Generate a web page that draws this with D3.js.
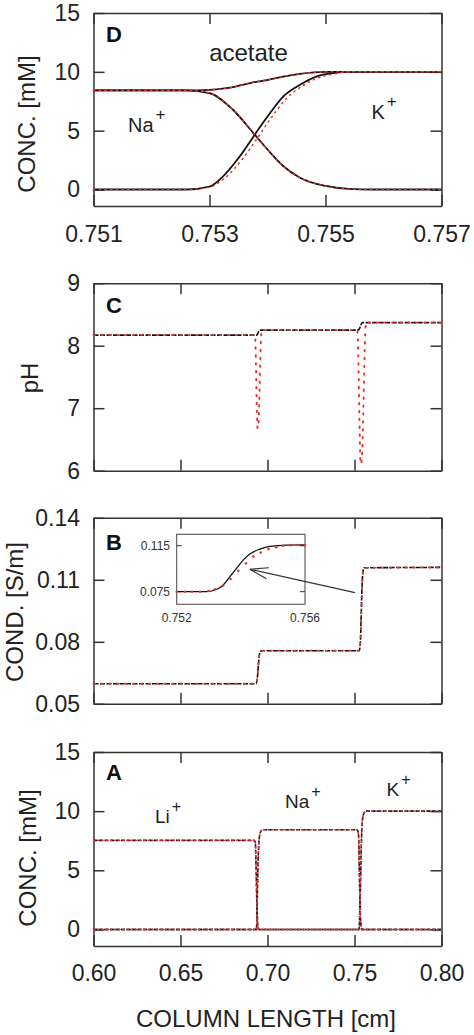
<!DOCTYPE html>
<html lang="en">
<head>
<meta charset="UTF-8">
<title>Column profiles</title>
<script src="https://d3js.org/d3.v7.min.js"></script>
<style>
  body, html { margin: 0; background: #fff; }
  svg { font-family: 'Liberation Sans', Arial, sans-serif; display: block; }
  .frame path, .frame line { stroke: #333; stroke-width: 1.5; }
  .frame text { fill: #222; }
</style>
</head>
<body>
<svg id="chart" width="474" height="1035"></svg>
<script>
// ---------- data ----------
// panel D: zoom around the Na+/K+ boundary
const dNa = [[0.751,8.43],[0.7526,8.43],[0.753,8.2],[0.7534,6.8],[0.75378,4.66],[0.754,3.4],[0.75427,2.0],[0.75456,1.0],[0.755,0.3],[0.7554,0.05],[0.7558,0],[0.757,0]];
const dK  = [[0.751,0],[0.7526,0],[0.753,0.25],[0.75323,1.1],[0.75352,2.8],[0.75378,4.66],[0.754,6.2],[0.75427,7.9],[0.75456,8.9],[0.75484,9.6],[0.75513,9.9],[0.7554,10],[0.757,10]];
const dKRed = [[0.751,0],[0.7526,0],[0.753,0.2],[0.75327,1.0],[0.75357,2.6],[0.75383,4.4],[0.75405,6.0],[0.75432,7.7],[0.7546,8.8],[0.75488,9.5],[0.75517,9.85],[0.7554,10],[0.757,10]];
const dAc = [[0.751,8.43],[0.7528,8.43],[0.753,8.47],[0.75341,8.7],[0.7537,9.05],[0.75399,9.3],[0.75427,9.6],[0.75456,9.83],[0.755,10],[0.757,10]];

// panel C: pH
const cPh    = [[0.6,8.17],[0.6938,8.17],[0.6945,8.2],[0.6952,8.24],[0.696,8.25],[0.7522,8.25],[0.753,8.28],[0.7538,8.34],[0.7546,8.37],[0.8,8.37]];
const cPhRed = [[0.6,8.17],[0.6928,8.17],[0.6943,6.68],[0.6947,6.72],[0.6966,8.25],[0.7516,8.25],[0.7536,6.11],[0.7541,6.15],[0.7566,8.37],[0.8,8.37]];

// panel B: conductivity
const bCond = [[0.6,0.0597],[0.6934,0.0597],[0.6941,0.062],[0.6947,0.068],[0.6953,0.0735],[0.696,0.0753],[0.6968,0.0757],[0.7527,0.0757],[0.7534,0.08],[0.7538,0.091],[0.7543,0.106],[0.7549,0.1142],[0.7555,0.1158],[0.8,0.116]];
const insetLine = [[0.752,0.075],[0.75294,0.075],[0.75325,0.0771],[0.75345,0.0809],[0.75366,0.0881],[0.75387,0.0955],[0.75408,0.1027],[0.75429,0.108],[0.7546,0.1121],[0.75491,0.1144],[0.75543,0.1156],[0.756,0.1157]];
const insetDots = [[0.7520,0.075],[0.75226,0.075],[0.75247,0.075],[0.75273,0.075],[0.75299,0.0756],[0.75319,0.0771],[0.75345,0.0803],[0.75368,0.0861],[0.75392,0.0931],[0.75416,0.0998],[0.75439,0.1056],[0.75462,0.1091],[0.75486,0.1121],[0.7551,0.1138],[0.75532,0.115],[0.75555,0.1156],[0.75579,0.1156],[0.756,0.1156]];

// panel A: concentrations
const aLi = [[0.6,7.53],[0.6924,7.53],[0.693,7.35],[0.6934,5.5],[0.694,1.5],[0.6947,0.1],[0.6952,0],[0.8,0]];
const aNa = [[0.6,0],[0.6934,0],[0.6938,0.4],[0.6943,4],[0.6951,7.5],[0.696,8.25],[0.6971,8.43],[0.7516,8.43],[0.7523,8.0],[0.7529,4],[0.7534,1],[0.7543,0],[0.8,0]];
const aK  = [[0.6,0],[0.7526,0],[0.7533,3],[0.7539,7],[0.7546,9.3],[0.7557,9.9],[0.7566,10],[0.8,10]];

const xTicksMain = [0.6, 0.65, 0.7, 0.75, 0.8];
const xTicksD = [0.751, 0.753, 0.755, 0.757];
const concTicks = [0, 5, 10, 15];
const phTicks = [6, 7, 8, 9];
const condTicks = [0.05, 0.08, 0.11, 0.14];

// ---------- drawing ----------
const svg = d3.select("#chart");
const left = 93.5, right = 441.5;

function panel(o) {
  const x = d3.scaleLinear().domain(o.xDomain).range([left, right]);
  const y = d3.scaleLinear().domain(o.yDomain).range([o.bottom, o.top]);
  const g = svg.append("g").attr("class", "frame");
  const ts = -11;

  g.append("g").attr("transform", `translate(0,${o.bottom})`)
    .call(d3.axisBottom(x).tickValues(o.xTicks).tickSize(ts).tickSizeOuter(0)
      .tickPadding(o.xPad || 20).tickFormat(o.xFormat ? d3.format(o.xFormat) : ""))
    .call(a => a.selectAll("text").style("font-size", "23px"));
  g.append("g").attr("transform", `translate(0,${o.top})`)
    .call(d3.axisTop(x).tickValues(o.xTicks).tickSize(ts).tickSizeOuter(0).tickFormat(""));
  g.append("g").attr("transform", `translate(${left},0)`)
    .call(d3.axisLeft(y).tickValues(o.yTicks).tickSize(ts).tickSizeOuter(0)
      .tickPadding(13.5).tickFormat(d3.format(o.yFormat)))
    .call(a => a.selectAll("text").style("font-size", "23px"));
  g.append("g").attr("transform", `translate(${right},0)`)
    .call(d3.axisRight(y).tickValues(o.yTicks).tickSize(ts).tickSizeOuter(0).tickFormat(""));
  g.selectAll(".tick text").attr("fill", "#222");

  // y title
  svg.append("text")
    .attr("transform", `translate(${o.titleX},${o.titleY}) rotate(-90)`)
    .attr("text-anchor", "middle")
    .style("font-size", "24px").attr("fill", "#222")
    .text(o.yTitle);

  // panel letter
  svg.append("text").attr("x", 106).attr("y", o.letterY)
    .style("font-size", "22px").style("font-weight", "bold").attr("fill", "#111")
    .text(o.letter);

  return { x, y };
}

function curve(p, data, color, dash, w) {
  const line = d3.line().curve(d3.curveMonotoneX).x(d => p.x(d[0])).y(d => p.y(d[1]));
  svg.append("path").datum(data)
    .attr("d", line)
    .attr("fill", "none")
    .attr("stroke", color)
    .attr("stroke-width", w || 1.6)
    .attr("stroke-linecap", dash && color !== "#111" ? "round" : "butt")
    .attr("stroke-dasharray", dash || null);
}

function ionLabel(x, y, name, size) {
  const t = svg.append("text").attr("x", x).attr("y", y)
    .style("font-size", size + "px").attr("fill", "#222");
  t.append("tspan").text(name);
  t.append("tspan").attr("dy", -size * 0.6).attr("dx", 2).style("font-size", (size * 0.85) + "px").text("+");
}

// ----- D -----
const pD = panel({ xDomain: [0.751, 0.757], yDomain: [-1.4, 15], top: 13, bottom: 206,
  xTicks: xTicksD, yTicks: concTicks, xFormat: ".3f", yFormat: "d", xPad: 20,
  yTitle: "CONC. [mM]", titleX: 35, titleY: 124, letter: "D", letterY: 41.5 });
[dNa, dK, dAc].forEach(s => curve(pD, s, "#111", null, 1.8));
curve(pD, dNa, "#e8312f", "1.2,4.5", 1.5);
curve(pD, dKRed, "#e8312f", "1.2,4.5", 1.5);
curve(pD, dAc, "#e8312f", "1.2,4.5", 1.5);
svg.append("text").attr("x", 248.5).attr("y", 61).attr("text-anchor", "middle")
  .style("font-size", "24px").attr("fill", "#222").text("acetate");
ionLabel(128, 131.5, "Na", 20);
ionLabel(371.5, 118.5, "K", 20);

// ----- C -----
const pC = panel({ xDomain: [0.6, 0.8], yDomain: [6, 9], top: 283.2, bottom: 470.7,
  xTicks: xTicksMain, yTicks: phTicks, yFormat: "d",
  yTitle: "pH", titleX: 38, titleY: 378, letter: "C", letterY: 313 });
curve(pC, cPh, "#111", "5,1.5", 1.6);
curve(pC, cPhRed, "#e8312f", "1.4,6.5", 1.9);

// ----- B -----
const pB = panel({ xDomain: [0.6, 0.8], yDomain: [0.05, 0.14], top: 517.8, bottom: 703.8,
  xTicks: xTicksMain, yTicks: condTicks, yFormat: ".2f",
  yTitle: "COND. [S/m]", titleX: 23, titleY: 612, letter: "B", letterY: 550 });
curve(pB, bCond, "#111", "5,1.5", 1.6);
curve(pB, bCond, "#e8312f", "1.4,6.5", 1.8);

// inset
const ix = d3.scaleLinear().domain([0.752, 0.756]).range([176.7, 305]);
const iy = d3.scaleLinear().domain([0.064, 0.125]).range([604.3, 534.3]);
const ig = svg.append("g");
ig.append("rect").attr("x", 176.7).attr("y", 534.3).attr("width", 128.3).attr("height", 70)
  .attr("fill", "#fff").attr("stroke", "#555").attr("stroke-width", 1.1);
[0.075, 0.115].forEach(v => {
  ig.append("line").attr("x1", 176.7).attr("x2", 181.7).attr("y1", iy(v)).attr("y2", iy(v)).attr("stroke", "#333");
  ig.append("line").attr("x1", 300).attr("x2", 305).attr("y1", iy(v)).attr("y2", iy(v)).attr("stroke", "#333");
  ig.append("text").attr("x", 170).attr("y", iy(v)).attr("dy", "0.35em").attr("text-anchor", "end")
    .style("font-size", "12px").attr("fill", "#333").text(d3.format(".3f")(v));
});
[0.752, 0.756].forEach(v => {
  ig.append("text").attr("x", ix(v)).attr("y", 621.5).attr("text-anchor", "middle")
    .style("font-size", "12px").attr("fill", "#333").text(d3.format(".3f")(v));
});
ig.append("path").datum(insetLine)
  .attr("d", d3.line().curve(d3.curveMonotoneX).x(d => ix(d[0])).y(d => iy(d[1])))
  .attr("fill", "none").attr("stroke", "#111").attr("stroke-width", 1.3);
ig.selectAll("circle").data(insetDots).join("circle")
  .attr("cx", d => ix(d[0])).attr("cy", d => iy(d[1])).attr("r", 1.3).attr("fill", "#e8312f");

// arrow
const a0 = [355, 592.7], a1 = [250, 569.3];
const ang = Math.atan2(a0[1] - a1[1], a0[0] - a1[0]);
ig.append("line").attr("x1", a0[0]).attr("y1", a0[1]).attr("x2", a1[0]).attr("y2", a1[1])
  .attr("stroke", "#333").attr("stroke-width", 1.2);
[-0.3, 0.3].forEach(da => {
  ig.append("line").attr("x1", a1[0]).attr("y1", a1[1])
    .attr("x2", a1[0] + 19 * Math.cos(ang + da)).attr("y2", a1[1] + 19 * Math.sin(ang + da))
    .attr("stroke", "#333").attr("stroke-width", 1.2);
});

// ----- A -----
const pA = panel({ xDomain: [0.6, 0.8], yDomain: [-1.4, 15], top: 752, bottom: 946,
  xTicks: xTicksMain, yTicks: concTicks, xFormat: ".2f", yFormat: "d", xPad: 18.5,
  yTitle: "CONC. [mM]", titleX: 36, titleY: 858, letter: "A", letterY: 780 });
[aLi, aNa, aK].forEach(s => curve(pA, s, "#111", "4,1.5", 1.6));
[aLi, aNa, aK].forEach(s => curve(pA, s, "#e8312f", "1.2,3", 1.4));
ionLabel(155, 823.3, "Li", 19);
ionLabel(285, 808.3, "Na", 19);
ionLabel(386.5, 796, "K", 19);

svg.append("text").attr("x", 266).attr("y", 1027).attr("text-anchor", "middle")
  .style("font-size", "24px").attr("fill", "#222").text("COLUMN LENGTH [cm]");
</script>
</body>
</html>
